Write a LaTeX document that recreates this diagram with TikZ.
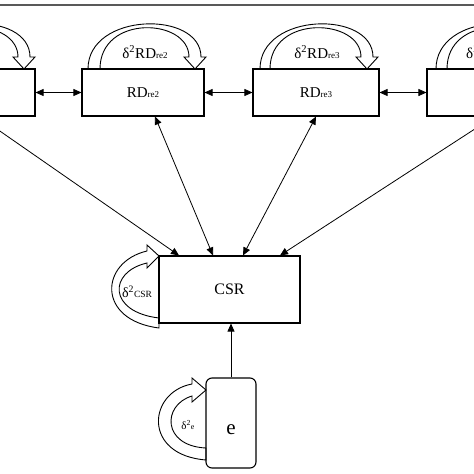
\documentclass[tikz,border=0pt]{standalone}
\usepackage{fontspec}
\setmainfont{Liberation Serif}
\usetikzlibrary{arrows.meta,calc}
\newcommand\fsz[1]{\fontsize{#1}{#1}\selectfont}
\newcommand\smalltxt[1]{{\fsz{9}#1}}
\newcommand\looptop[3]{%
 \draw[loopline] (#1,69) .. controls (#1,12) and ({#3+6},10) .. ({#3+6},57) -- ({#3+11},57) -- (#3,69) -- ({#3-11},57) -- ({#3-6},57) .. controls ({#3-6},18) and (#2,14) .. (#2,69) -- cycle;}
\begin{document}
\begin{tikzpicture}[x=1pt,y=-1pt,
  box/.style={draw, line width=1.1pt, minimum height=47pt, inner sep=0pt, font=\fsz{15}},
  tip/.tip={Triangle[length=8pt,width=7pt]},
  conn/.style={line width=0.8pt, tip-tip},
  loopline/.style={draw, line width=0.9pt, fill=white},
  lab/.style={inner sep=0pt, font=\fsz{15}}]
\useasboundingbox (0,0) rectangle (474,474);
\fill[white] (0,0) rectangle (474,474);
\clip (0,0) rectangle (474,474);
\draw[line width=2pt, black!65] (0,5) -- (474,5);
% self loops
\looptop{-81}{-69}{24}
\looptop{88}{100}{195}
\looptop{260}{270}{367}
\looptop{436}{447}{541}
\draw[loopline] (159,256) -- (147,245) -- (147,251) .. controls (100,262) and (96,320) .. (159,328) -- (159,318) .. controls (108,312) and (108,272) .. (147,263) -- (147,268) -- cycle;
\draw[loopline] (206,390) -- (192,378) -- (192,384) .. controls (148,392) and (142,455) .. (206,460) -- (206,448) .. controls (162,446) and (162,405) .. (192,396) -- (192,402) -- cycle;
% boxes
\node[box, minimum width=122pt] (rd1) at (-26,92.5) {};
\node[box, minimum width=122pt] (rd2) at (143,92.5) {RD\smalltxt{re2}};
\node[box, minimum width=126pt] (rd3) at (316,92.5) {RD\smalltxt{re3}};
\node[box, minimum width=126pt] (rd4) at (490,92.5) {};
\node[box, minimum width=141pt, minimum height=67pt, font=\fsz{16}] (csr) at (229.5,289.5) {CSR};
\node[draw, line width=1.1pt, rounded corners=6pt, minimum width=50pt, minimum height=90pt] (e) at (231,423) {};
\node[inner sep=0pt, font=\fsz{21}] (elab) at (231,430) {e};
% loop labels
\node[lab] (l2) at (145,52) {δ\textsuperscript{2}RD\smalltxt{re2}};
\node[lab] (l3) at (317,52) {δ\textsuperscript{2}RD\smalltxt{re3}};
\node[lab, anchor=west] (l4) at (466,52) {δ\textsuperscript{2}};
\node[lab, font=\fsz{14}] (lcsr) at (137,292) {δ\textsuperscript{2}{\fsz{9.5}CSR}};
\node[lab, font=\fsz{11}] (le) at (188,425) {δ\textsuperscript{2}{\fsz{8}e}};
% connectors
\draw[conn] (rd1) -- (rd2);
\draw[conn] (rd2) -- (rd3);
\draw[conn] (rd3) -- (rd4);
\draw[conn] ([xshift=5pt]rd1.south) -- ([xshift=-50.5pt]csr.north);
\draw[conn] ([xshift=12pt]rd2.south) -- ([xshift=-16.5pt]csr.north);
\draw[conn] (rd3.south) -- ([xshift=13.5pt]csr.north);
\draw[conn] ([xshift=4pt]rd4.south) -- ([xshift=50.5pt]csr.north);
\draw[line width=0.8pt, -tip] (e.north) -- (e.north |- csr.south);
\end{tikzpicture}
\end{document}
